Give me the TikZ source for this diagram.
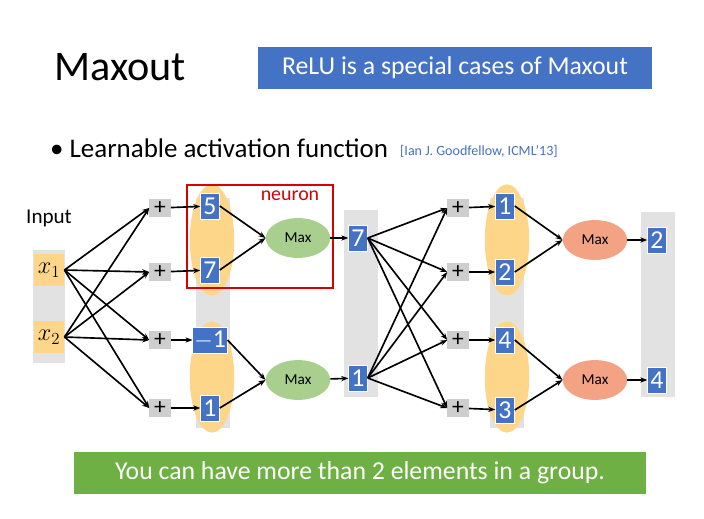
\documentclass[tikz,border=0pt]{standalone}
\usepackage{fontspec}
\setmainfont{Carlito}
\usetikzlibrary{arrows.meta,shapes.geometric}
\definecolor{sblue}{HTML}{4472C4}
\definecolor{sgray}{HTML}{E2E2E2}
\definecolor{sorange}{HTML}{FDD68A}
\definecolor{sgreen}{HTML}{A9CF8E}
\definecolor{ssalmon}{HTML}{F4A284}
\definecolor{sbar}{HTML}{6EB043}
\begin{document}
\begin{tikzpicture}[x=0.03cm,y=-0.03cm,
    num/.style={fill=sblue,text=white,draw=white,line width=0.6pt,minimum width=16pt,minimum height=22pt,inner sep=1pt,font=\fontsize{22}{22}\selectfont},
    inp/.style={fill=sorange,minimum width=26pt,minimum height=27pt,inner sep=1pt,font=\fontsize{20}{20}\selectfont},
    plus/.style={fill=sgray!80!gray,minimum width=18pt,minimum height=16pt,inner sep=0pt,font=\fontsize{20}{20}\selectfont},
    maxn/.style={ellipse,minimum width=55pt,minimum height=34pt,inner sep=0pt,font=\fontsize{13}{13}\selectfont},
    col/.style={fill=sgray},
    grp/.style={ellipse,fill=sorange,minimum width=38pt,minimum height=95pt},
    conn/.style={-{Stealth[length=6pt]},line width=1.4pt}]
\useasboundingbox (0,0) rectangle (704,518);
% header
\node[anchor=west,font=\fontsize{36}{36}\selectfont] (title) at (50,67) {Maxout};
\node[fill=sblue,text=white,minimum width=336pt,minimum height=36pt,font=\fontsize{22}{22}\selectfont] (relu) at (455,68) {ReLU is a special cases of Maxout};
\node[anchor=west,font=\fontsize{23}{23}\selectfont] (bullet) at (46,148) {\textbullet\ Learnable activation function};
\node[anchor=west,text=sblue,font=\fontsize{12}{12}\selectfont] (ref) at (396,151) {[Ian J. Goodfellow, ICML’13]};
% background columns
\fill[col] (33,250) rectangle (65,363);
\fill[col] (196,198) rectangle (230,428);
\fill[col] (344,210) rectangle (378,397);
\fill[col] (490,198) rectangle (524,428);
\fill[col] (641,212) rectangle (675,397);
\node[grp] (g1) at (212,240) {};
\node[grp] (g2) at (212,377) {};
\node[grp] (g3) at (507,240) {};
\node[grp] (g4) at (507,377) {};
% input
\node[font=\fontsize{18}{18}\selectfont] (inlab) at (49,218) {Input};
\node[inp] (x1) at (49,270) {$x_1$};
\node[inp] (x2) at (49,337) {$x_2$};
% first layer
\foreach \i/\y in {1/208,2/272,3/340,4/408}{
  \node[plus] (p\i) at (160,\y) {+};
  \node[plus] (q\i) at (458,\y) {+};
}
\node[num] (a1) at (210,206) {5};
\node[num] (a2) at (210,270) {7};
\node[num] (a3) at (210,340) {$-$1};
\node[num] (a4) at (210,408) {1};
\node[maxn,fill=sgreen] (m1) at (298,238) {Max};
\node[maxn,fill=sgreen] (m2) at (298,380) {Max};
\node[num] (h1) at (358,238) {7};
\node[num] (h2) at (358,378) {1};
\node[num] (b1) at (505,206) {1};
\node[num] (b2) at (505,272) {2};
\node[num] (b3) at (505,340) {4};
\node[num] (b4) at (505,410) {3};
\node[maxn,fill=ssalmon] (n1) at (595,240) {Max};
\node[maxn,fill=ssalmon] (n2) at (595,380) {Max};
\node[num] (o1) at (657,240) {2};
\node[num] (o2) at (657,380) {4};
% neuron box
\draw[red!85!black,line width=2pt] (187,185) rectangle (333,288);
\node[text=red!85!black,font=\fontsize{17}{17}\selectfont] (neu) at (290,196) {neuron};
% connectors
\foreach \s in {x1,x2}{\foreach \i in {1,...,4}{\draw[conn] (\s.east) -- (p\i.west);}}
\foreach \s in {h1,h2}{\foreach \i in {1,...,4}{\draw[conn] (\s.east) -- (q\i.west);}}
\foreach \i in {1,...,4}{\draw[conn] (p\i) -- (a\i); \draw[conn] (q\i) -- (b\i);}
\draw[conn] (a1.east) -- (m1.west); \draw[conn] (a2.east) -- (m1.west);
\draw[conn] (a3.east) -- (m2.west); \draw[conn] (a4.east) -- (m2.west);
\draw[conn] (b1.east) -- (n1.west); \draw[conn] (b2.east) -- (n1.west);
\draw[conn] (b3.east) -- (n2.west); \draw[conn] (b4.east) -- (n2.west);
\draw[conn] (m1) -- (h1); \draw[conn] (m2) -- (h2);
\draw[conn] (n1) -- (o1); \draw[conn] (n2) -- (o2);
% bottom bar
\node[fill=sbar,text=white,minimum width=488pt,minimum height=36pt,font=\fontsize{22}{22}\selectfont] (bar) at (360,473) {You can have more than 2 elements in a group.};
\end{tikzpicture}
\end{document}
